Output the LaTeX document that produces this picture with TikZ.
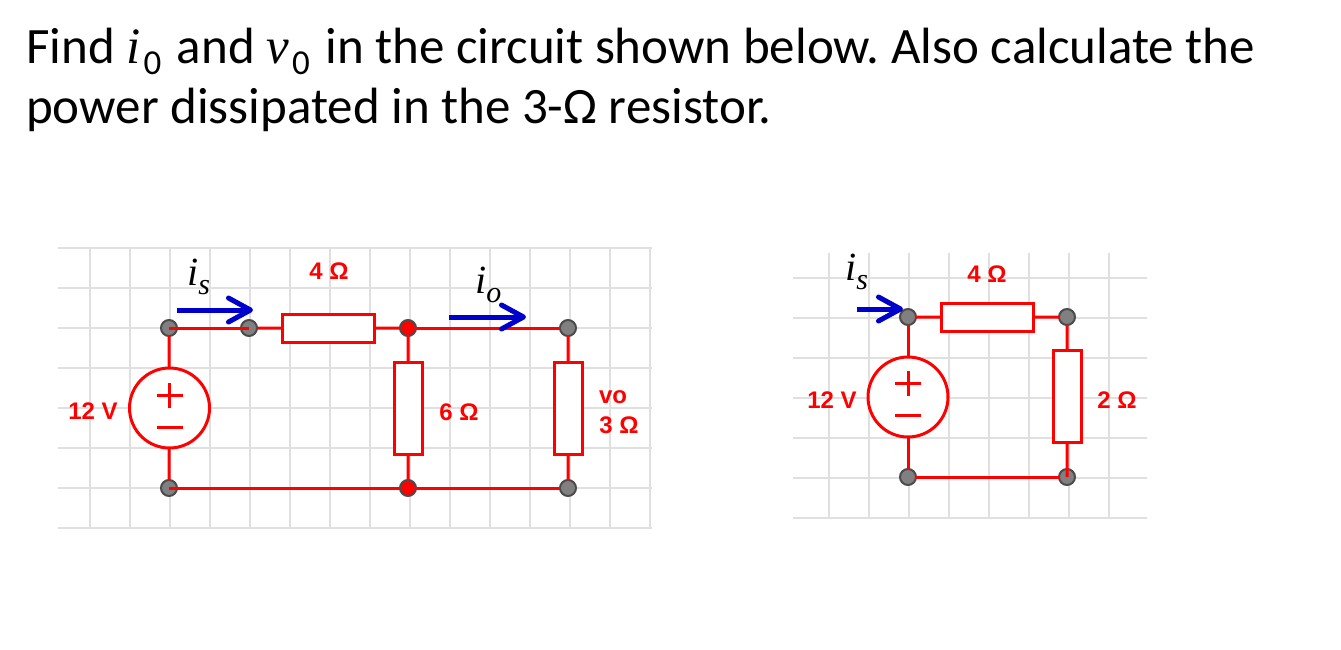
\documentclass[tikz,border=0pt]{standalone}
\usepackage{fontspec}
\setmainfont{Carlito}
\newfontfamily\labelfont{Liberation Sans}
\newfontfamily\varfont{Liberation Serif}
\usetikzlibrary{arrows.meta}
\newcommand{\titlevar}[1]{{\varfont\itshape #1}\hspace{3pt}\raisebox{-0.22em}{\fontsize{35}{35}\selectfont 0}\hspace{4pt}}
\newcommand{\currentvar}[2]{{\varfont\itshape #1\raisebox{-0.24em}{\fontsize{30}{30}\selectfont #2}}}
\frenchspacing
\begin{document}
\begin{tikzpicture}[
      x=1pt,y=-1pt,
      gridline/.style={line width=1.2pt,black!12},
      wire/.style={line width=3pt,red},
      terminal/.style={circle,draw=black!70,fill=black!50,line width=2pt,minimum size=16pt,inner sep=0pt,outer sep=0pt},
      junction/.style={terminal,fill=red},
      hres/.style={rectangle,draw=red,fill=white,line width=3pt,minimum width=92pt,minimum height=28pt,outer sep=0pt},
      vres/.style={rectangle,draw=red,fill=white,line width=3pt,minimum width=28pt,minimum height=92pt,outer sep=0pt},
      source/.style={circle,draw=red,fill=white,line width=3pt,minimum size=80pt,inner sep=0pt,outer sep=0pt},
      sign/.style={line width=3pt,red},
      flow/.style={line width=5pt,{Straight Barb[length=22pt,width=24pt,line width=5pt,round]}-,draw=blue!80!black},
      value/.style={text=red,font=\labelfont\bfseries\fontsize{24}{26}\selectfont,inner sep=0pt},
      current/.style={font=\fontsize{40}{40}\selectfont,inner sep=0pt,anchor=base west},
      question/.style={font=\fontsize{51}{56}\selectfont,inner sep=0pt,anchor=base west}
    ]
    \useasboundingbox (0,0) rectangle (1341,649);
    % Draw the question.
    \node[question] (lineone) at (26,63) {Find \titlevar{i} and \titlevar{v} in the circuit shown below. Also calculate the};
    \node[question] (linetwo) at (26,123) {power dissipated in the 3-Ω resistor.};
    % Draw the grid of the left circuit.
    \foreach \y in {248,288,...,528} \draw[gridline] (58,\y) -- (652,\y);
    \foreach \x in {90,130,...,650} \draw[gridline] (\x,248) -- (\x,528);
    % Draw the grid of the right circuit.
    \foreach \y in {278,318,...,518} \draw[gridline] (793,\y) -- (1147,\y);
    \foreach \x in {829,869,...,1109} \draw[gridline] (\x,253) -- (\x,518);
    % Draw the parts of the left circuit.
    \node[source] (srcl) at (169.5,408) {};
    \node[hres] (rfourl) at (328.5,328.5) {};
    \node[vres] (rsix) at (408.5,408.5) {};
    \node[vres] (rthree) at (568.5,408.5) {};
    \node[terminal] (lta) at (169,328) {};
    \node[terminal] (ltb) at (249,328) {};
    \node[junction] (ltc) at (408,328) {};
    \node[terminal] (ltd) at (568,328) {};
    \node[terminal] (lba) at (169,488) {};
    \node[junction] (lbc) at (408,488) {};
    \node[terminal] (lbd) at (568,488) {};
    % Draw the wires of the left circuit.
    \draw[wire] (lta.center) -- (ltb.center);
    \draw[wire] (ltb) -- (rfourl);
    \draw[wire] (rfourl) -- (ltc);
    \draw[wire] (ltc) -- (ltd);
    \draw[wire] (lta) -- (srcl);
    \draw[wire] (srcl) -- (lba);
    \draw[wire] (ltc) -- (rsix);
    \draw[wire] (rsix) -- (lbc);
    \draw[wire] (ltd) -- (rthree);
    \draw[wire] (rthree) -- (lbd);
    \draw[wire] (lba.center) -- (lbc);
    \draw[wire] (lbc) -- (lbd);
    \draw[sign] ([shift={(-13,-13)}]srcl.center) -- ++(26,0);
    \draw[sign] ([shift={(0,-25)}]srcl.center) -- ++(0,25);
    \draw[sign] ([shift={(-13,19)}]srcl.center) -- ++(26,0);
    % Draw the parts of the right circuit.
    \node[source] (srcr) at (908,397) {};
    \node[hres] (rfourr) at (987.5,317.5) {};
    \node[vres] (rtwo) at (1067.5,396.5) {};
    \node[terminal] (rta) at (908,317) {};
    \node[terminal] (rtb) at (1067,317) {};
    \node[terminal] (rba) at (908,477) {};
    \node[terminal] (rbb) at (1067,477) {};
    % Draw the wires of the right circuit.
    \draw[wire] (rta) -- (rfourr);
    \draw[wire] (rfourr) -- (rtb);
    \draw[wire] (rta) -- (srcr);
    \draw[wire] (srcr) -- (rba);
    \draw[wire] (rtb) -- (rtwo);
    \draw[wire] (rtwo) -- (rbb.center);
    \draw[wire] (rba) -- (rbb);
    \draw[sign] ([shift={(-13,-14)}]srcr.center) -- ++(26,0);
    \draw[sign] ([shift={(0,-26)}]srcr.center) -- ++(0,25);
    \draw[sign] ([shift={(-13,18)}]srcr.center) -- ++(26,0);
    % Draw the currents.
    \coordinate (islhead) at (253,310);
    \coordinate (isltail) at (177,310);
    \coordinate (iohead) at (526,317);
    \coordinate (iotail) at (449,317);
    \coordinate (isrhead) at ([shift={(3,-8)}]rta.west);
    \coordinate (isrtail) at (857,309);
    \draw[flow] (islhead) -- (isltail);
    \draw[flow] (iohead) -- (iotail);
    \draw[flow] (isrhead) -- (isrtail);
    \node[current] (isl) at (187,285) {\currentvar{i}{s}};
    \node[current] (io) at (475,293) {\currentvar{i}{o}};
    \node[current] (isr) at (845,280) {\currentvar{i}{s}};
    % Draw the values.
    \node[value] (vsl) at (93,411) {12 V};
    \node[value] (vfourl) at (329,271) {4 Ω};
    \node[value] (vsix) at (459,412) {6 Ω};
    \node[value] (vo) at (613,397) {vo};
    \node[value] (vthree) at (619,425) {3 Ω};
    \node[value] (vsr) at (832,400) {12 V};
    \node[value] (vfourr) at (987,274) {4 Ω};
    \node[value] (vtwo) at (1117,400) {2 Ω};
    \end{tikzpicture}
\end{document}
